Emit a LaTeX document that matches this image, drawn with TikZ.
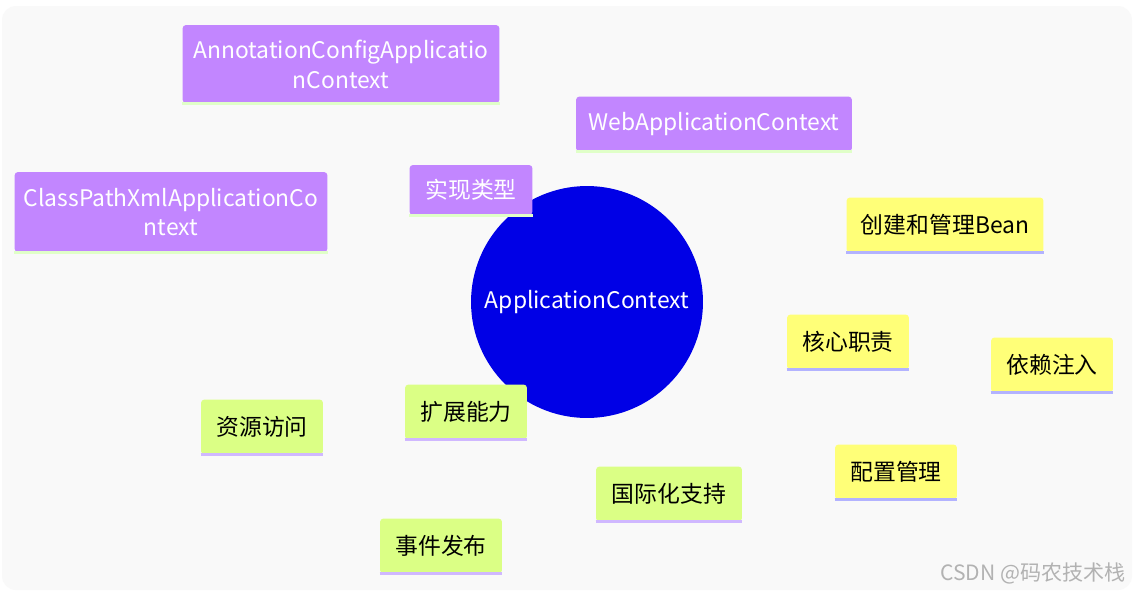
\documentclass[tikz,border=0pt]{standalone}
\usepackage{fontspec}
\setmainfont{Noto Sans CJK SC}
\pgfdeclarelayer{bgl}
\pgfsetlayers{bgl,main}
\begin{document}
\begin{tikzpicture}[x=0.02cm,y=-0.02cm,
  box/.style={rounded corners=2pt,inner sep=0pt,align=center,font=\fontsize{13}{17}\selectfont},
  pur/.style={box,fill=purp,text=white},
  yel/.style={box,fill=yel,text=black},
  grn/.style={box,fill=grn,text=black},
  pe/.style={draw=purp,line width=7pt},
  ye/.style={draw=yel,line width=7pt},
  ge/.style={draw=grn,line width=7pt},
  ul/.style={line width=1.8pt}]
\definecolor{purp}{HTML}{C286FF}
\definecolor{yel}{HTML}{FFFF78}
\definecolor{grn}{HTML}{DBFF85}
\definecolor{bg}{HTML}{F9F9F9}
\definecolor{ulg}{HTML}{E0FFC8}
\definecolor{ulb}{HTML}{B3B3FF}
\definecolor{ull}{HTML}{D0B8FF}
\definecolor{hubc}{HTML}{0000E6}
\fill[white] (0,0) rectangle (1134,593);
\fill[bg,rounded corners=8pt] (2,6) rectangle (1132,590);
\useasboundingbox (0,0) rectangle (1134,593);
\node[circle,fill=hubc,text=white,minimum size=4.64cm,inner sep=0pt,font=\fontsize{13}{17}\selectfont] (c) at (587,302) {ApplicationContext};
\node[pur,minimum width=2.46cm,minimum height=1.0cm] (impl) at (471,190) {实现类型};
\node[pur,minimum width=6.34cm,minimum height=1.56cm] (anno) at (341,64) {AnnotationConfigApplicatio\\nContext};
\node[pur,minimum width=5.52cm,minimum height=1.1cm] (web) at (714,124) {WebApplicationContext};
\node[pur,minimum width=6.26cm,minimum height=1.6cm] (cls) at (171,212) {ClassPathXmlApplicationCo\\ntext};
\node[yel,minimum width=2.44cm,minimum height=1.1cm] (core) at (848,342) {核心职责};
\node[yel,minimum width=3.94cm,minimum height=1.1cm] (bean) at (945,225) {创建和管理Bean};
\node[yel,minimum width=2.44cm,minimum height=1.1cm] (di) at (1052,365) {依赖注入};
\node[yel,minimum width=2.44cm,minimum height=1.1cm] (cfg) at (896,472) {配置管理};
\node[grn,minimum width=2.44cm,minimum height=1.1cm] (ext) at (466,412) {扩展能力};
\node[grn,minimum width=2.44cm,minimum height=1.1cm] (res) at (262,427) {资源访问};
\node[grn,minimum width=2.92cm,minimum height=1.1cm] (i18n) at (669,494) {国际化支持};
\node[grn,minimum width=2.44cm,minimum height=1.1cm] (evt) at (441,546) {事件发布};
% underlines
\foreach \n in {impl,anno,web,cls} \draw[ulg,ul] (\n.south west) -- (\n.south east);
\foreach \n in {core,bean,di,cfg} \draw[ulb,ul] (\n.south west) -- (\n.south east);
\foreach \n in {ext,res,i18n,evt} \draw[ull,ul] (\n.south west) -- (\n.south east);
\begin{pgfonlayer}{bgl}
\draw[purp,line width=5pt] (impl.center) -- (c.center);
\draw[pe] (impl.center) -- (anno.center);
\draw[pe] (impl.center) -- (web.center);
\draw[pe] (impl.center) -- (cls.center);
\draw[yel,line width=5pt] (core.center) -- (c.center);
\draw[ye] (core.center) -- (bean.center);
\draw[ye] (core.center) -- (di.center);
\draw[ye] (core.center) -- (cfg.center);
\draw[grn,line width=5pt] (ext.center) -- (c.center);
\draw[ge] (ext.center) -- (res.center);
\draw[ge] (ext.center) -- (i18n.center);
\draw[ge] (ext.center) -- (evt.center);
\end{pgfonlayer}
\node[text=gray!60,font=\fontsize{12}{14}\selectfont] (wm) at (1033,573) {CSDN @码农技术栈};
\end{tikzpicture}
\end{document}
